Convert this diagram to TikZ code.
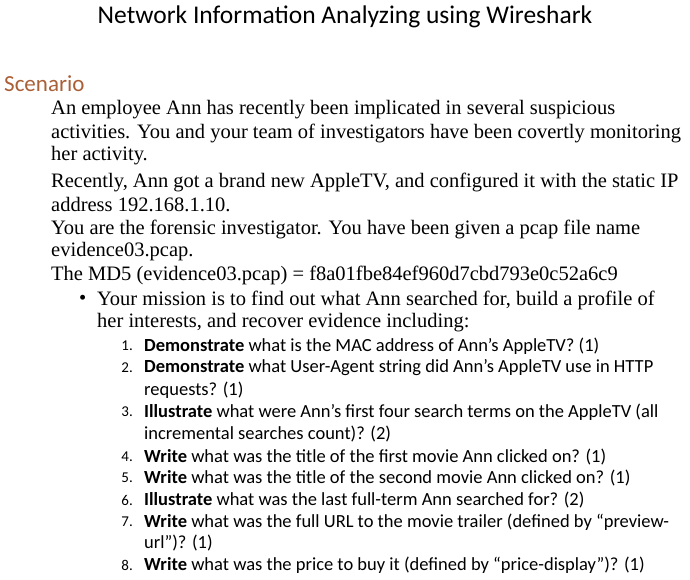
\documentclass[tikz,border=0pt]{standalone}
\usepackage{fontspec}
\setmainfont{Liberation Serif}
\newfontfamily\calfont{Carlito}
\definecolor{scen}{RGB}{170,95,55}
\begin{document}
\begin{tikzpicture}[x=1pt,y=-1pt,
  body/.style={anchor=west,inner sep=0,font=\fontsize{20.5}{22}\selectfont},
  item/.style={anchor=west,inner sep=0,font=\calfont\fontsize{18.5}{20}\selectfont},
  num/.style={anchor=east,inner sep=0,font=\calfont\fontsize{15}{17}\selectfont}]
\useasboundingbox (0,0) rectangle (690,579);
\node[inner sep=0,font=\calfont\fontsize{25.5}{28}\selectfont] (title) at (345,17) {Network Information Analyzing using Wireshark};
\node[anchor=west,inner sep=0,text=scen,font=\calfont\fontsize{23}{26}\selectfont] (scen) at (4,84) {Scenario};
\node[body] (b1) at (51,110) {An employee Ann has recently been implicated in several suspicious};
\node[body] (b2) at (51,133) {activities. You and your team of investigators have been covertly monitoring};
\node[body] (b3) at (51,156) {her activity.};
\node[body] (b4) at (51,182) {Recently, Ann got a brand new AppleTV, and configured it with the static IP};
\node[body] (b5) at (51,205) {address 192.168.1.10.};
\node[body] (b6) at (51,229) {You are the forensic investigator. You have been given a pcap file name};
\node[body] (b7) at (51,252) {evidence03.pcap.};
\node[body] (b8) at (51,275) {The MD5 (evidence03.pcap) = f8a01fbe84ef960d7cbd793e0c52a6c9};
\node[body] (bul) at (79,300) {\textbullet};
\node[body] (b9) at (97,300) {Your mission is to find out what Ann searched for, build a profile of};
\node[body] (b10) at (97,323) {her interests, and recover evidence including:};
\node[num] (n1) at (133,346) {1.};
\node[item] (i1) at (144,346) {\textbf{Demonstrate} what is the MAC address of Ann’s AppleTV? (1)};
\node[num] (n2) at (133,368) {2.};
\node[item] (i2) at (144,368) {\textbf{Demonstrate} what User-Agent string did Ann’s AppleTV use in HTTP};
\node[item] (i2b) at (144,390) {requests? (1)};
\node[num] (n3) at (133,412) {3.};
\node[item] (i3) at (144,412) {\textbf{Illustrate} what were Ann’s first four search terms on the AppleTV (all};
\node[item] (i3b) at (144,434) {incremental searches count)? (2)};
\node[num] (n4) at (133,457) {4.};
\node[item] (i4) at (144,457) {\textbf{Write} what was the title of the first movie Ann clicked on? (1)};
\node[num] (n5) at (133,478) {5.};
\node[item] (i5) at (144,478) {\textbf{Write} what was the title of the second movie Ann clicked on? (1)};
\node[num] (n6) at (133,500) {6.};
\node[item] (i6) at (144,500) {\textbf{Illustrate} what was the last full-term Ann searched for? (2)};
\node[num] (n7) at (133,522) {7.};
\node[item] (i7) at (144,522) {\textbf{Write} what was the full URL to the movie trailer (defined by “preview-};
\node[item] (i7b) at (144,543) {url”)? (1)};
\node[num] (n8) at (133,565) {8.};
\node[item] (i8) at (144,565) {\textbf{Write} what was the price to buy it (defined by “price-display”)? (1)};
\end{tikzpicture}
\end{document}
